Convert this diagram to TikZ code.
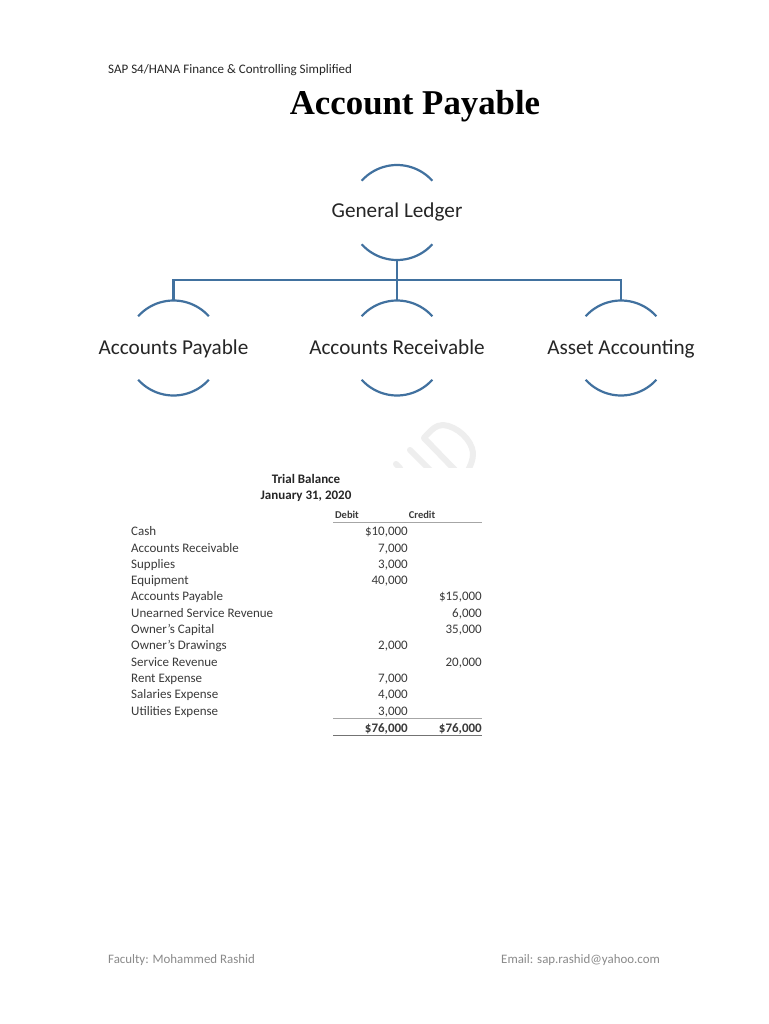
\documentclass[tikz,border=0pt]{standalone}
\usepackage{fontspec}
\setmainfont{Carlito}
\newfontfamily\titlefont{Liberation Serif}
\definecolor{bluel}{HTML}{41719F}
\definecolor{txt}{HTML}{262626}
\definecolor{tabtxt}{HTML}{3A3A3A}
\definecolor{foot}{HTML}{8A8A8A}
\definecolor{wm}{HTML}{EEEEEE}
\tikzset{
  hub/.style={circle,minimum size=95pt,inner sep=0,outer sep=0},
  hubtext/.style={anchor=base,inner sep=0,font=\fontsize{21.2}{24}\selectfont,text=txt},
  arcline/.style={draw=bluel,line width=2.2pt},
  conn/.style={draw=bluel,line width=2.2pt},
  lbl/.style={anchor=base west,inner sep=0,font=\fontsize{13}{15}\selectfont,text=tabtxt},
  num/.style={anchor=base east,inner sep=0,font=\fontsize{13}{15}\selectfont,text=tabtxt},
  head/.style={anchor=base,inner sep=0,font=\bfseries\fontsize{10.5}{13}\selectfont,text=tabtxt},
  ttl/.style={anchor=base,inner sep=0,font=\bfseries\fontsize{13}{15}\selectfont,text=txt},
  foottext/.style={anchor=base west,inner sep=0,font=\fontsize{12.9}{15}\selectfont,text=foot},
  rulethin/.style={draw=gray!70,line width=.8pt},
  rulethick/.style={draw=gray!90!black,line width=1.8pt}
}
\begin{document}
\begin{tikzpicture}[x=1pt,y=-1pt]
\useasboundingbox[fill=white] (0,0) rectangle (768,1024);
% watermark fragment
\begin{scope}
\clip (390,410) rectangle (500,467.5);
\draw[wm,line width=6pt,line cap=round] (396,464) -- (400,468);
\draw[wm,line width=6pt,line cap=round] (410,450) -- (430,470);
\draw[wm,line width=6pt,line join=round] (455,470) -- (424,438) .. controls (431,430) and (436,425) .. (443,425) .. controls (457,426) and (472,440) .. (473,453) .. controls (473,460) and (471,465) .. (467,472);
\end{scope}
\node[anchor=base west,inner sep=0,font=\fontsize{13}{15}\selectfont,text=txt] (hdr) at (108,73.5) {SAP S4/HANA Finance \& Controlling Simplified};
\node[anchor=base,inner sep=0,font=\titlefont\bfseries\fontsize{34.8}{38}\selectfont,text=black] (title) at (415,115) {Account Payable};
% hubs
\node[hub] (gl) at (397,212.5) {};
\node[hub] (ap) at (173.5,348) {};
\node[hub] (ar) at (397,348) {};
\node[hub] (aa) at (621,348) {};
\node[hubtext] (gltext) at (397,218) {General Ledger};
\node[hubtext] (aptext) at (173.5,354) {Accounts Payable};
\node[hubtext] (artext) at (397,354) {Accounts Receivable};
\node[hubtext] (aatext) at (621,354) {Asset Accounting};
\foreach \n in {gl,ap,ar,aa}{
  \draw[arcline] (\n.42) arc[start angle=42,end angle=138,radius=47.5pt];
  \draw[arcline] (\n.318) arc[start angle=318,end angle=222,radius=47.5pt];
}
\coordinate (bus) at (397,280);
\draw[conn] (gl.south) -- (ar.north);
\draw[conn] (ap.north) |- (bus) -| (aa.north);
% table
\node[ttl] (t1) at (306,483) {Trial Balance};
\node[ttl] (t2) at (306,499.5) {January 31, 2020};
\node[head] (hd) at (347,518.5) {Debit};
\node[head] (hc) at (422,518.5) {Credit};
\coordinate (r1a) at (333,522); \coordinate (r1b) at (482,522);
\coordinate (r2a) at (333,718); \coordinate (r2b) at (482,718);
\coordinate (r3a) at (333,735.5); \coordinate (r3b) at (482,735.5);
\draw[rulethin] (r1a) -- (r1b);
\draw[rulethin] (r2a) -- (r2b);
\draw[rulethick] (r3a) -- (r3b);
\foreach \nm/\yy/\lab in {a/535/Cash,b/552/Accounts Receivable,c/568/Supplies,d/584/Equipment,e/600/Accounts Payable,f/617/Unearned Service Revenue,g/633/Owner's Capital,h/649.5/Owner's Drawings,i/666/Service Revenue,j/682/Rent Expense,k/698.5/Salaries Expense,l/715/Utilities Expense}{
  \node[lbl,name=lab\nm] at (131,\yy) {\lab};
}
\foreach \nm/\yy/\val in {a/535/{\$10,000},b/552/{7,000},c/568/{3,000},d/584/{40,000},h/649.5/{2,000},j/682/{7,000},k/698.5/{4,000},l/715/{3,000}}{
  \node[num,name=deb\nm] at (408,\yy) {\val};
}
\foreach \nm/\yy/\val in {e/600/{\$15,000},f/617/{6,000},g/633/{35,000},i/666/{20,000}}{
  \node[num,name=cre\nm] at (482,\yy) {\val};
}
\node[num,font=\bfseries\fontsize{13}{15}\selectfont] (totd) at (408,732) {\$76,000};
\node[num,font=\bfseries\fontsize{13}{15}\selectfont] (totc) at (482,732) {\$76,000};
% footer
\node[foottext] (f1) at (108,963) {Faculty: Mohammed Rashid};
\node[foottext] (f2) at (501,963) {Email: sap.rashid@yahoo.com};
\end{tikzpicture}
\end{document}
